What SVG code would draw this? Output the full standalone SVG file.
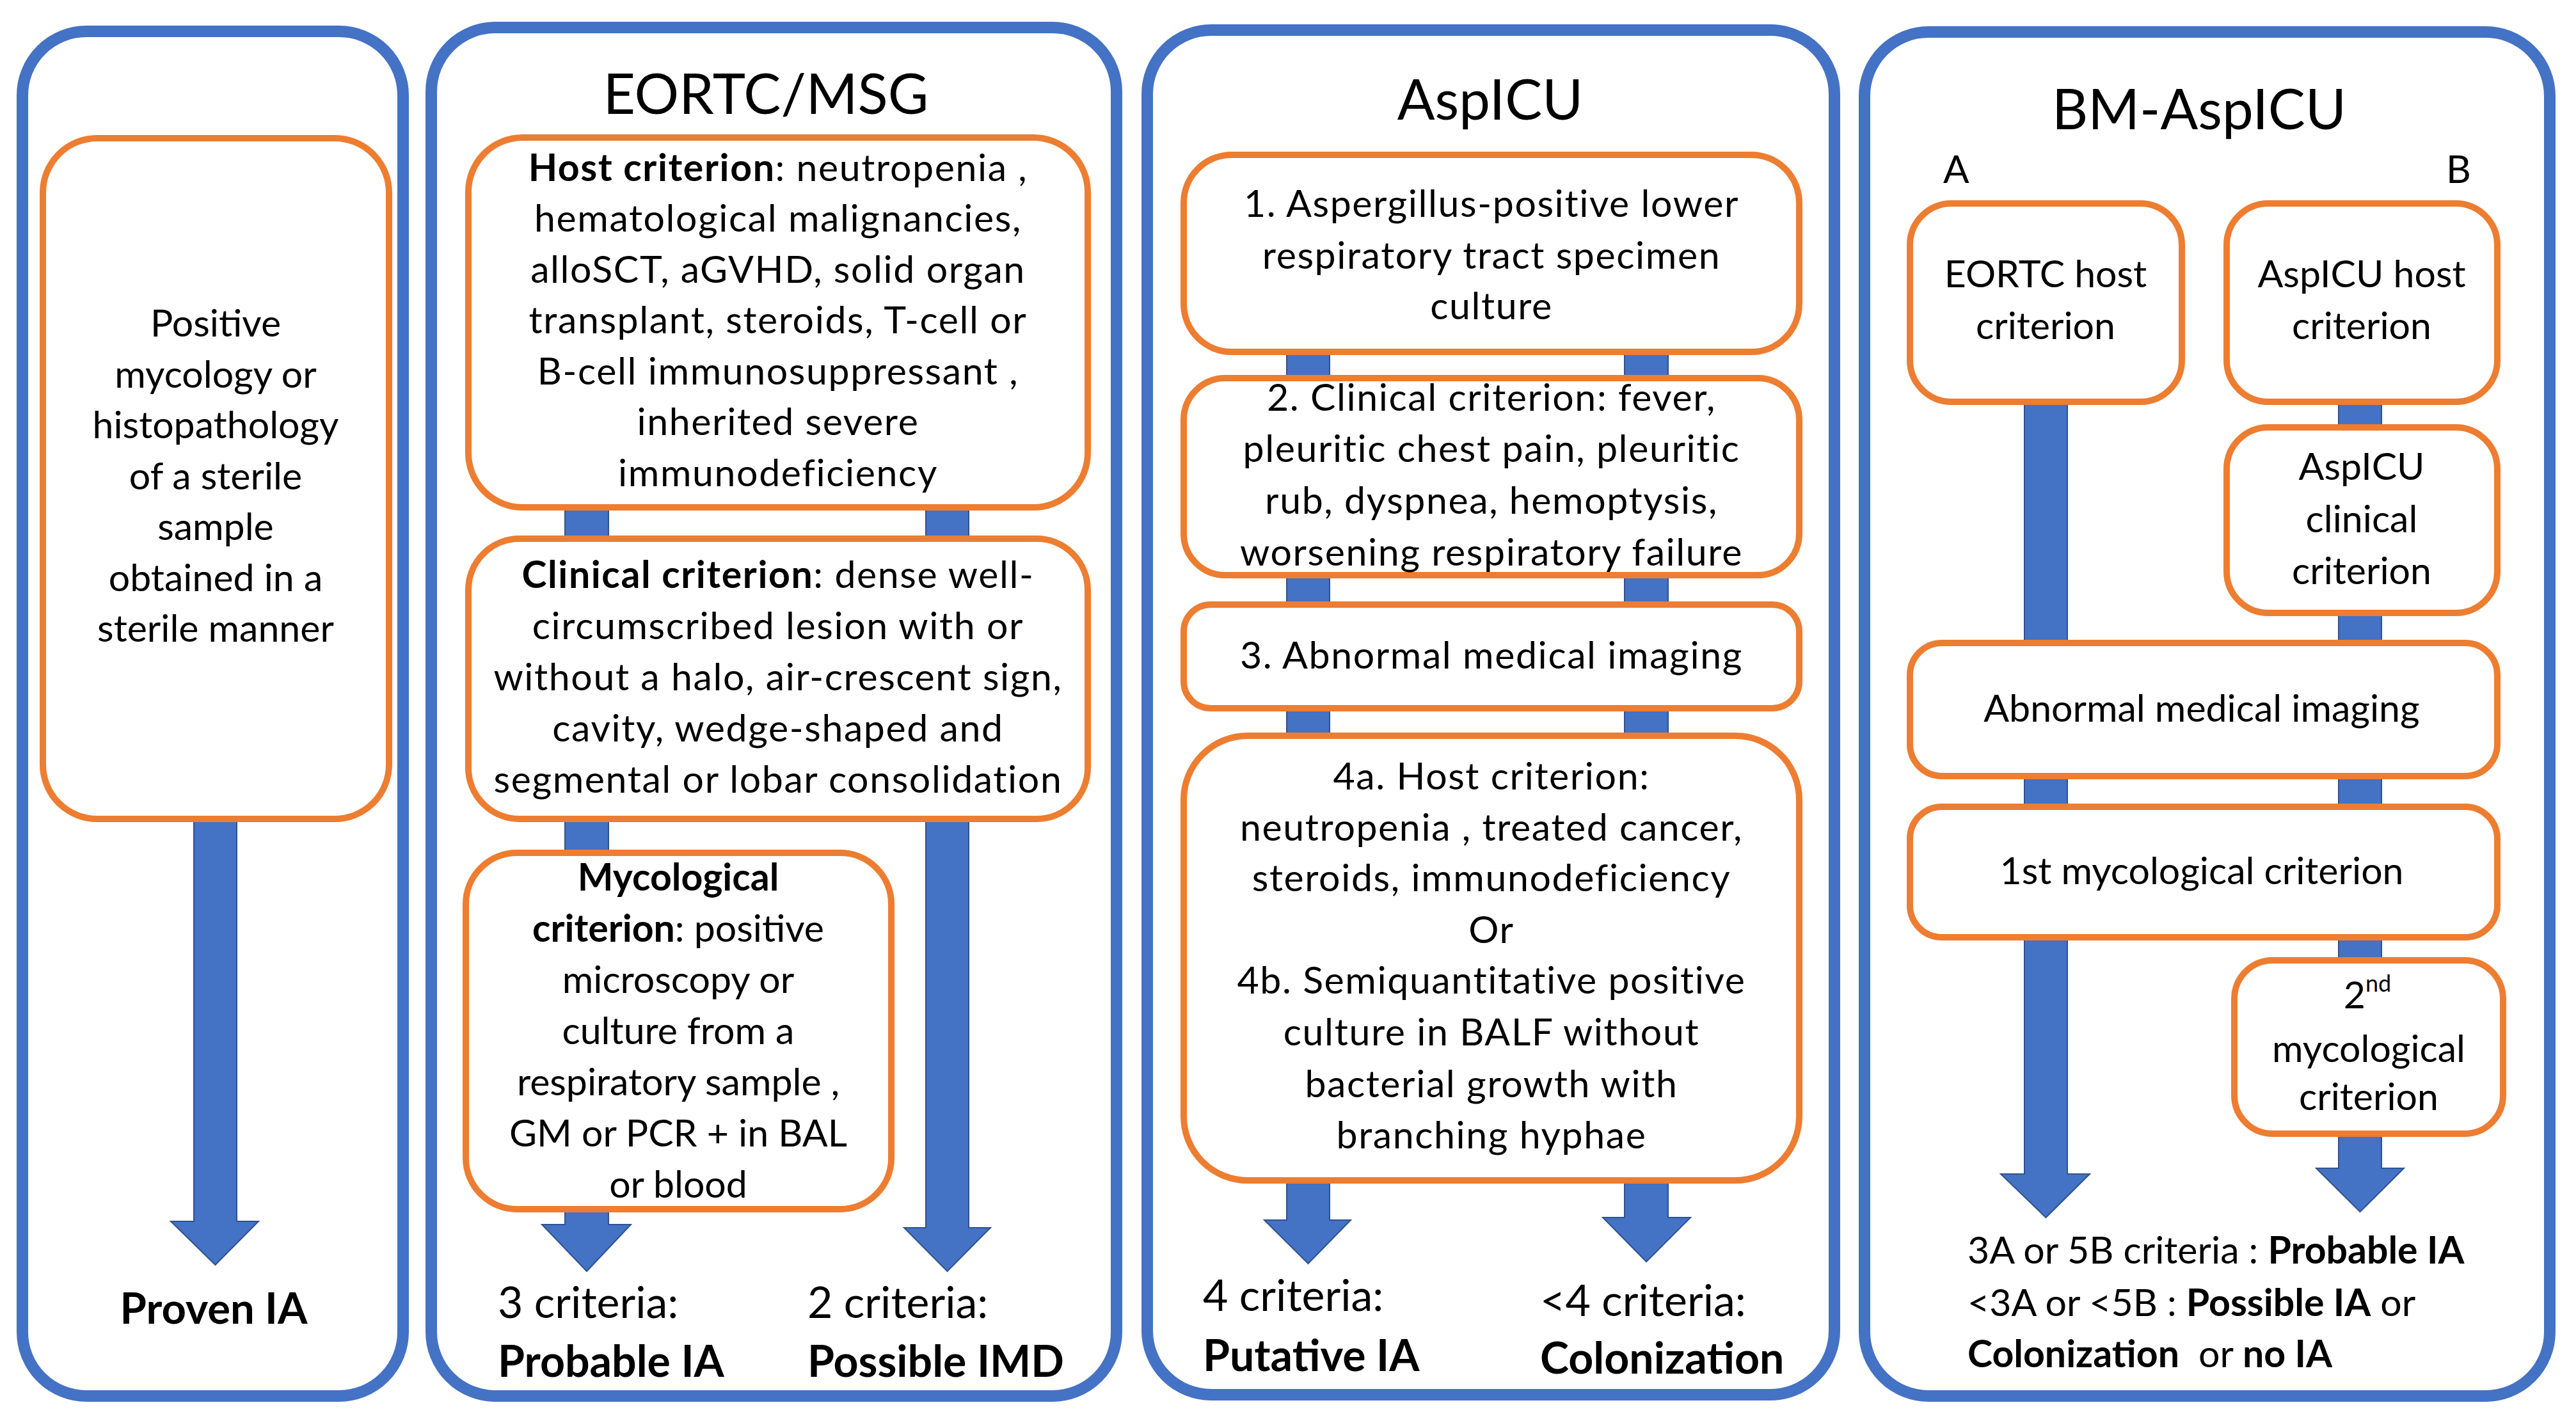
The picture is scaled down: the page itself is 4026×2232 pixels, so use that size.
<svg xmlns="http://www.w3.org/2000/svg" width="4026" height="2232" viewBox="0 0 4026 2232">
<style>
.panel{fill:#fff;stroke:#4472C4;stroke-width:18}
.box{fill:#fff;stroke:#ED7D31;stroke-width:10}
.arrow{fill:#4472C4;stroke:#2F528F;stroke-width:2;stroke-linejoin:miter}
text{font-family:Lato,"Liberation Sans",sans-serif;fill:#000}
.t{font-size:59px;text-anchor:middle}
.w{letter-spacing:1.6px}
.title{font-size:87px;text-anchor:middle}
.res{font-size:68px}
.res2{font-size:59px}
.lab{font-size:60px}
.b{font-weight:bold}
</style>
<rect width="4026" height="2232" fill="#fff"/>
<g id="panels">
  <rect id="panel-proven" class="panel" x="35" y="49" width="595" height="2133" rx="100"/>
  <rect id="panel-eortc" class="panel" x="674" y="43" width="1071" height="2139" rx="100"/>
  <rect id="panel-aspicu" class="panel" x="1793" y="47" width="1074" height="2133" rx="100"/>
  <rect id="panel-bm" class="panel" x="2914" y="50" width="1071" height="2132" rx="100"/>
</g>
<g id="connectors">
  <polygon class="arrow" points="303,1280 370,1280 370,1909 404,1909 336.5,1977 267,1909 303,1909"/>
  <polygon class="arrow" points="883,793 951,793 951,1914 986,1914 917,1987 847,1914 883,1914"/>
  <polygon class="arrow" points="1447,793 1514,793 1514,1919 1548,1919 1480.5,1987 1413,1919 1447,1919"/>
  <polygon class="arrow" points="2011,550 2078,550 2078,1907 2111,1907 2044.5,1975 1976,1907 2011,1907"/>
  <polygon class="arrow" points="2539,550 2607,550 2607,1903 2642,1903 2573,1972 2505,1903 2539,1903"/>
  <polygon class="arrow" points="3164,628 3231,628 3231,1835 3266,1835 3197.5,1903 3127,1835 3164,1835"/>
  <polygon class="arrow" points="3655,628 3722,628 3722,1826 3757,1826 3688.5,1894 3620,1826 3655,1826"/>
</g>
<g id="proven">
  <rect class="box" x="67" y="216" width="541" height="1064" rx="85"/>
  <text class="t" x="337" y="526">Positive</text>
  <text class="t" x="337" y="606">mycology or</text>
  <text class="t" x="337" y="685">histopathology</text>
  <text class="t" x="337" y="765">of a sterile</text>
  <text class="t" x="337" y="844">sample</text>
  <text class="t" x="337" y="924">obtained in a</text>
  <text class="t" x="337" y="1003">sterile manner</text>
  <text class="t b" x="334" y="2069" style="font-size:67px">Proven IA</text>
</g>
<g id="eortc">
  <text class="title" x="1197" y="178">EORTC/MSG</text>
  <g id="eortc-host">
    <rect class="box" x="732" y="215" width="968" height="578" rx="85"/>
    <text class="t w" x="1216" y="283"><tspan class="b">Host criterion</tspan>: neutropenia ,</text>
    <text class="t w" x="1216" y="362">hematological malignancies,</text>
    <text class="t w" x="1216" y="442">alloSCT, aGVHD, solid organ</text>
    <text class="t w" x="1216" y="521">transplant, steroids, T-cell or</text>
    <text class="t w" x="1216" y="601">B-cell immunosuppressant ,</text>
    <text class="t w" x="1216" y="680">inherited severe</text>
    <text class="t w" x="1216" y="760">immunodeficiency</text>
  </g>
  <g id="eortc-clinical">
    <rect class="box" x="732" y="842" width="968" height="438" rx="80"/>
    <text class="t w" x="1216" y="919"><tspan class="b">Clinical criterion</tspan>: dense well-</text>
    <text class="t w" x="1216" y="999">circumscribed lesion with or</text>
    <text class="t w" x="1216" y="1079">without a halo, air-crescent sign,</text>
    <text class="t w" x="1216" y="1159">cavity, wedge-shaped and</text>
    <text class="t w" x="1216" y="1239">segmental or lobar consolidation</text>
  </g>
  <g id="eortc-myco">
    <rect class="box" x="728" y="1333" width="665" height="557" rx="80"/>
    <text class="t b" x="1060" y="1392">Mycological</text>
    <text class="t" x="1060" y="1472"><tspan class="b">criterion</tspan>: positive</text>
    <text class="t" x="1060" y="1552">microscopy or</text>
    <text class="t" x="1060" y="1632">culture from a</text>
    <text class="t" x="1060" y="1712">respiratory sample ,</text>
    <text class="t" x="1060" y="1792">GM or PCR + in BAL</text>
    <text class="t" x="1060" y="1872">or blood</text>
  </g>
  <g id="eortc-results">
    <text class="res" x="778" y="2060">3 criteria:</text>
    <text class="res b" x="778" y="2152">Probable IA</text>
    <text class="res" x="1262" y="2060">2 criteria:</text>
    <text class="res b" x="1262" y="2152">Possible IMD</text>
  </g>
</g>
<g id="aspicu">
  <text class="title" x="2329" y="187">AspICU</text>
  <g id="aspicu-1">
    <rect class="box" x="1850" y="242" width="962" height="308" rx="75"/>
    <text class="t w" x="2331" y="339">1. Aspergillus-positive lower</text>
    <text class="t w" x="2331" y="420">respiratory tract specimen</text>
    <text class="t w" x="2331" y="499">culture</text>
  </g>
  <g id="aspicu-2">
    <rect class="box" x="1850" y="591" width="962" height="308" rx="65"/>
    <text class="t w" x="2331" y="642">2. Clinical criterion: fever,</text>
    <text class="t w" x="2331" y="722">pleuritic chest pain, pleuritic</text>
    <text class="t w" x="2331" y="803">rub, dyspnea, hemoptysis,</text>
    <text class="t w" x="2331" y="884">worsening respiratory failure</text>
  </g>
  <g id="aspicu-3">
    <rect class="box" x="1850" y="945" width="962" height="162" rx="42"/>
    <text class="t w" x="2331" y="1045">3. Abnormal medical imaging</text>
  </g>
  <g id="aspicu-4">
    <rect class="box" x="1850" y="1150" width="962" height="695" rx="100"/>
    <text class="t w" x="2331" y="1234">4a. Host criterion:</text>
    <text class="t w" x="2331" y="1314">neutropenia , treated cancer,</text>
    <text class="t w" x="2331" y="1393">steroids, immunodeficiency</text>
    <text class="t w" x="2331" y="1474">Or</text>
    <text class="t w" x="2331" y="1553">4b. Semiquantitative positive</text>
    <text class="t w" x="2331" y="1634">culture in BALF without</text>
    <text class="t w" x="2331" y="1715">bacterial growth with</text>
    <text class="t w" x="2331" y="1795">branching hyphae</text>
  </g>
  <g id="aspicu-results">
    <text class="res" x="1880" y="2049">4 criteria:</text>
    <text class="res b" x="1880" y="2143">Putative IA</text>
    <text class="res" x="2407" y="2057">&lt;4 criteria:</text>
    <text class="res b" x="2407" y="2147">Colonization</text>
  </g>
</g>
<g id="bm">
  <text class="title" x="3437" y="202">BM-AspICU</text>
  <text class="lab" x="3037" y="286">A</text>
  <text class="lab" x="3823" y="286">B</text>
  <g id="bm-a-host">
    <rect class="box" x="2985" y="318" width="425" height="310" rx="65"/>
    <text class="t" x="3197" y="449">EORTC host</text>
    <text class="t" x="3197" y="530">criterion</text>
  </g>
  <g id="bm-b-host">
    <rect class="box" x="3480" y="318" width="423" height="310" rx="65"/>
    <text class="t" x="3691" y="449">AspICU host</text>
    <text class="t" x="3691" y="530">criterion</text>
  </g>
  <g id="bm-b-clinical">
    <rect class="box" x="3480" y="668" width="423" height="290" rx="65"/>
    <text class="t" x="3691" y="750">AspICU</text>
    <text class="t" x="3691" y="832">clinical</text>
    <text class="t" x="3691" y="913">criterion</text>
  </g>
  <g id="bm-imaging">
    <rect class="box" x="2985" y="1005" width="918" height="208" rx="50"/>
    <text class="t" x="3441" y="1128">Abnormal medical imaging</text>
  </g>
  <g id="bm-myco1">
    <rect class="box" x="2985" y="1261" width="918" height="204" rx="50"/>
    <text class="t" x="3441" y="1382">1st mycological criterion</text>
  </g>
  <g id="bm-myco2">
    <rect class="box" x="3492" y="1501" width="420" height="271" rx="60"/>
    <text class="t" x="3700" y="1576">2<tspan style="font-size:36px" dy="-26">nd</tspan></text>
    <text class="t" x="3702" y="1660">mycological</text>
    <text class="t" x="3702" y="1735">criterion</text>
  </g>
  <g id="bm-results">
    <text class="res2" x="3075" y="1975">3A or 5B criteria : <tspan class="b">Probable IA</tspan></text>
    <text class="res2" x="3075" y="2057">&lt;3A or &lt;5B : <tspan class="b">Possible IA</tspan> or</text>
    <text class="res2" x="3075" y="2137"><tspan class="b">Colonization</tspan>&#160; or <tspan class="b">no IA</tspan></text>
  </g>
</g>
</svg>
